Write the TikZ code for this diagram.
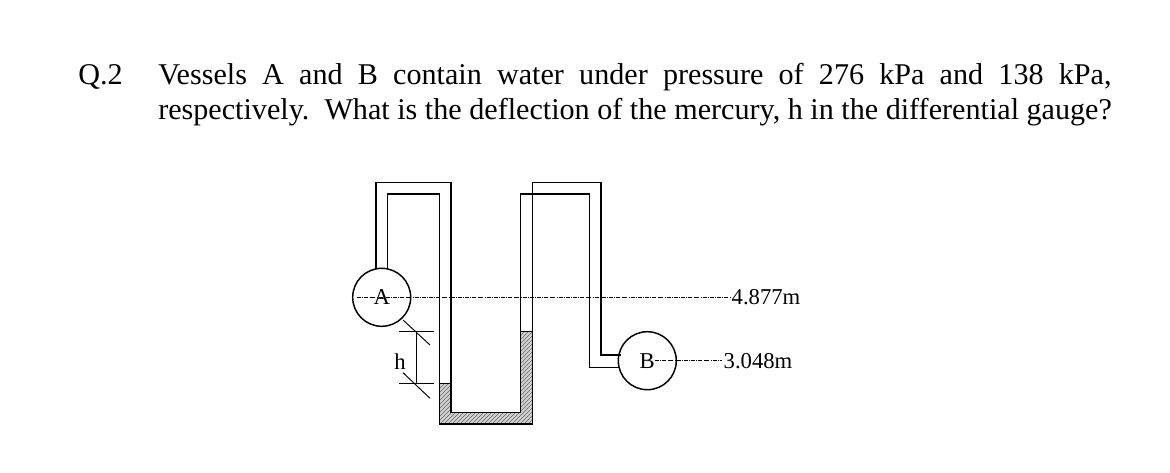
\documentclass[tikz,border=0pt]{standalone}
\usepackage{fontspec}
\setmainfont{Liberation Serif}
\usetikzlibrary{patterns}
\begin{document}
\begin{tikzpicture}[x=0.75pt,y=-0.75pt,
  wall/.style={line width=1.1pt},
  cl/.style={densely dashdotted,line width=0.5pt},
  big/.style={font=\fontsize{22.6}{26}\selectfont,inner sep=0pt,anchor=base west},
  lab/.style={font=\fontsize{17}{20}\selectfont,inner sep=1pt}]
\useasboundingbox (0,0) rectangle (1170,472);
\node[big] (q) at (78,84) {Q.2};
\node[big] (l1) at (158,84) {\makebox[715pt][s]{Vessels A and B contain water under pressure of 276 kPa and 138 kPa,}};
\node[big] (l2) at (158,119) {respectively.\ \ What is the deflection of the mercury, h in the differential gauge?};
% mercury
\fill[gray!35] (439.3,383.3) -- (439.3,424) -- (532.3,424) -- (532.3,331.7) -- (520.7,331.7) -- (520.7,412.3) -- (451,412.3) -- (451,383.3) -- cycle;
\fill[pattern=north east lines,pattern color=gray!80!black] (439.3,383.3) -- (439.3,424) -- (532.3,424) -- (532.3,331.7) -- (520.7,331.7) -- (520.7,412.3) -- (451,412.3) -- (451,383.3) -- cycle;
\draw[wall] (439.3,383.3) -- (451,383.3);
\draw[wall] (520.7,331.7) -- (532.3,331.7);
% circles
\node[draw,circle,minimum size=58*0.75pt,inner sep=0pt,line width=1.1pt] (A) at (381.7,297.3) {};
\node[draw,circle,minimum size=58*0.75pt,inner sep=0pt,line width=1.1pt] (B) at (647.3,360.7) {};
\node[lab] at (A.center) {A};
\node[lab] at (B.center) {B};
% tubes
\draw[wall] (376,268.7) -- (376,182.7) -- (451,182.7) -- (451,412.3) -- (520.7,412.3) -- (520.7,194) -- (589.3,194) -- (589.3,367.3) -- (619.5,367.3);
\draw[wall] (387.7,268.7) -- (387.7,194) -- (439.3,194) -- (439.3,424) -- (532.3,424) -- (532.3,182.7) -- (601,182.7) -- (601,355) -- (620.5,355);
% centre lines
\draw[cl] (357,297.3) -- (730,297.3) node[lab,anchor=west] (d1) {4.877m};
\draw[cl] (655,360.7) -- (722,360.7) node[lab,anchor=west] (d2) {3.048m};
% h dimension
\draw[line width=0.7pt] (399.3,331.7) -- (434.3,331.7);
\draw[line width=0.7pt] (399.3,383.3) -- (434.3,383.3);
\draw[line width=0.7pt] (416.7,331.7) -- (416.7,383.3);
\draw[line width=0.7pt] (403,320) -- (430,345);
\draw[line width=0.7pt] (403,372.7) -- (430,398.3);
\node[lab] (h) at (400,362) {h};
\end{tikzpicture}
\end{document}
